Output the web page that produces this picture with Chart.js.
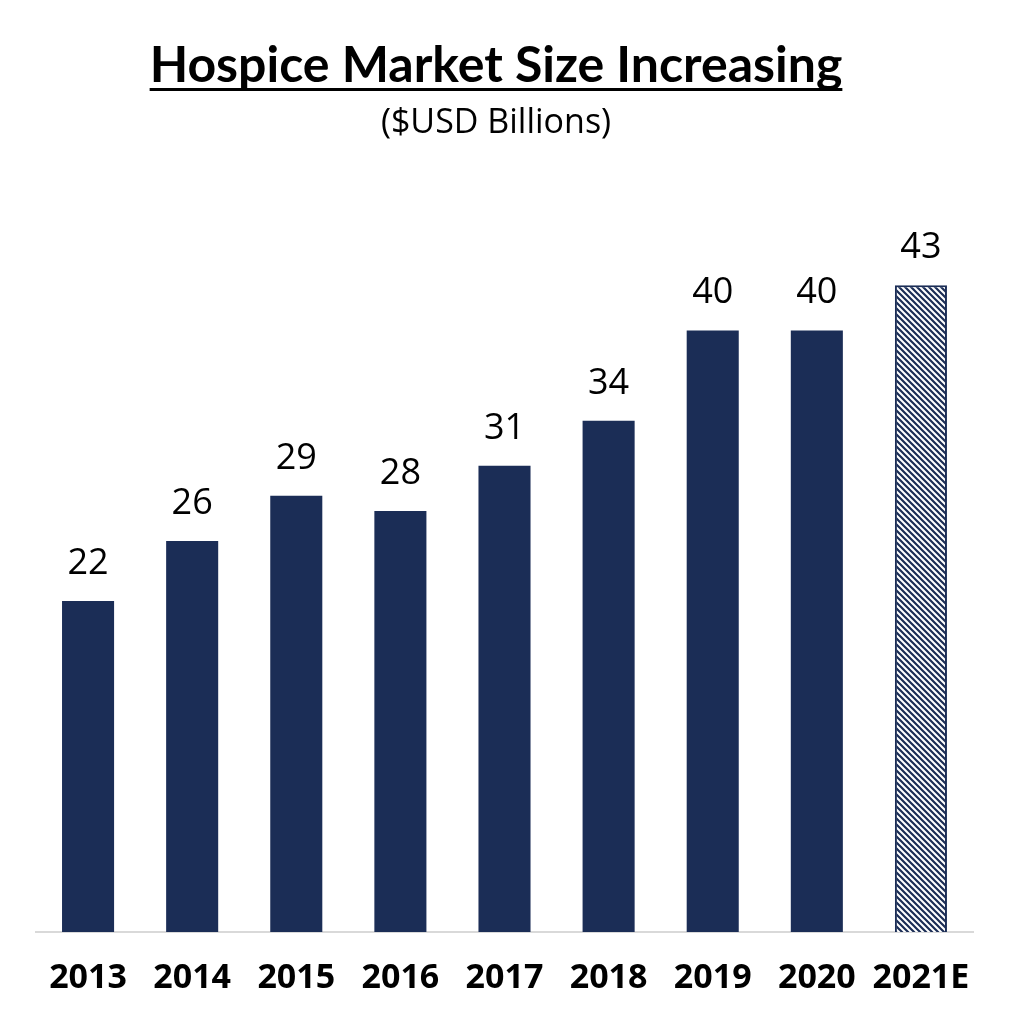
<!DOCTYPE html>
<html>
<head>
<meta charset="utf-8">
<script src="https://cdn.jsdelivr.net/npm/chart.js@4"></script>
<style>
  html, body { margin: 0; padding: 0; background: #fff; }
  #wrap { width: 1010px; height: 1024px; }
</style>
</head>
<body>
<div id="wrap"><canvas id="marketChart" width="1010" height="1024"></canvas></div>
<script>
const years = ["2013", "2014", "2015", "2016", "2017", "2018", "2019", "2020", "2021E"];
const marketSize = [22, 26, 29, 28, 31, 34, 40, 40, 43];
const estimated = [false, false, false, false, false, false, false, false, true];

const titleText = "Hospice Market Size Increasing";
const subtitleText = "($USD Billions)";

const navy = "#1b2d56";

// diagonal hatch for the estimate bar
function makeHatch() {
  const c = document.createElement("canvas");
  c.width = 6;
  c.height = 6;
  const g = c.getContext("2d");
  g.fillStyle = "#fff";
  g.fillRect(0, 0, 6, 6);
  g.strokeStyle = navy;
  g.lineWidth = 2.2;
  g.beginPath();
  g.moveTo(-1, -1);
  g.lineTo(7, 7);
  g.moveTo(-7, -1);
  g.lineTo(1, 7);
  g.moveTo(5, -1);
  g.lineTo(13, 7);
  g.stroke();
  return g.createPattern(c, "repeat");
}

const ctx = document.querySelector("#marketChart").getContext("2d");
const hatch = makeHatch();

const headerPlugin = {
  id: "header",
  afterDraw(chart) {
    const c = chart.ctx;
    const cx = 496;
    c.save();
    c.fillStyle = "#000";
    c.textAlign = "center";
    c.textBaseline = "alphabetic";
    c.font = "bold 50px Lato";
    c.fillText(titleText, cx, 82);
    const w = c.measureText(titleText).width;
    c.fillRect(cx - w / 2, 88, w, 3);
    c.font = "34px 'Open Sans'";
    c.fillText(subtitleText, cx, 133);
    c.restore();
  },
};

const valueLabels = {
  id: "valueLabels",
  afterDatasetsDraw(chart) {
    const c = chart.ctx;
    const meta = chart.getDatasetMeta(0);
    c.save();
    c.fillStyle = "#000";
    c.textAlign = "center";
    c.textBaseline = "alphabetic";
    c.font = "36px 'Open Sans'";
    meta.data.forEach((bar, i) => {
      c.fillText(String(marketSize[i]), bar.x, bar.y - 27);
    });
    c.restore();
  },
};

new Chart(ctx, {
  type: "bar",
  data: {
    labels: years,
    datasets: [
      {
        data: marketSize,
        backgroundColor: estimated.map((e) => (e ? hatch : navy)),
        borderColor: navy,
        borderWidth: estimated.map((e) => (e ? 2 : 0)),
        categoryPercentage: 1,
        barPercentage: 0.5,
      },
    ],
  },
  options: {
    responsive: false,
    animation: false,
    layout: { padding: { top: 180, left: 36, right: 37, bottom: 0 } },
    plugins: {
      legend: { display: false },
      tooltip: { enabled: false },
    },
    scales: {
      x: {
        grid: { display: false, drawTicks: false },
        border: { display: true, color: "#d9d9d9", width: 2 },
        ticks: {
          color: "#000",
          padding: 29,
          font: { family: "'Open Sans'", size: 34, weight: "bold", lineHeight: 1 },
        },
      },
      y: {
        display: false,
        min: 0,
        max: 50,
      },
    },
  },
  plugins: [headerPlugin, valueLabels],
});
</script>
</body>
</html>
